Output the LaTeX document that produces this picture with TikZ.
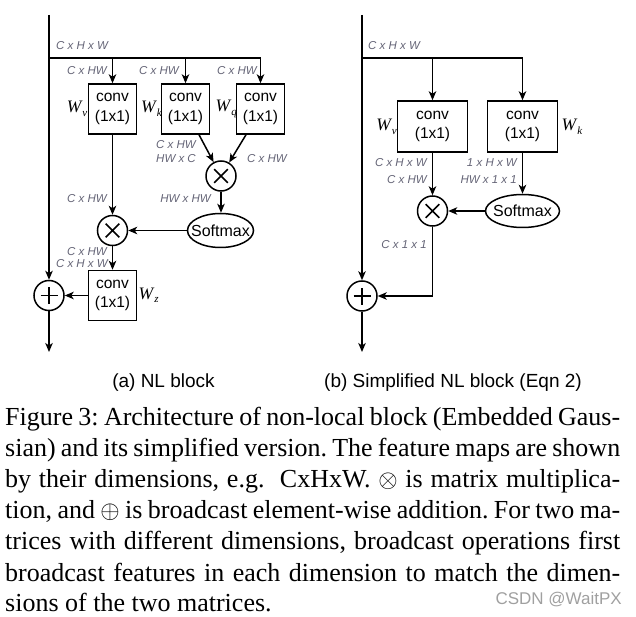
\documentclass[tikz,border=0pt]{standalone}
\usepackage{fontspec}
\setmainfont{Liberation Serif}
\setsansfont{Liberation Sans}
\usetikzlibrary{arrows.meta,shapes.geometric}
\definecolor{labc}{RGB}{100,100,118}
\definecolor{wmc}{RGB}{160,160,160}
\newcommand\Wlab[1]{\textit{W}\kern-0.3pt\raisebox{-3.5pt}{\fontsize{11}{11}\selectfont\textit{#1}}}
\newcommand\capline[1]{\makebox[615pt][s]{#1}}
\frenchspacing
\begin{document}
\begin{tikzpicture}[x=1pt,y=-1pt,
  ln/.style={line width=1.5pt},
  arr/.style={line width=1.5pt,-{Stealth[length=9pt,width=7.5pt,inset=2.5pt]}},
  convbox/.style={draw,line width=1.5pt,minimum width=48pt,minimum height=50pt,inner sep=0pt,align=center,font=\sffamily\fontsize{15.5}{19.5}\selectfont},
  wideconv/.style={convbox,minimum width=70pt,minimum height=51pt},
  opc/.style={draw,circle,line width=1.5pt,minimum size=30pt,inner sep=0pt},
  mult/.style={opc,path picture={\draw[line width=1.6pt]
     ([xshift=-6.8pt,yshift=-6.8pt]path picture bounding box.center) -- ([xshift=6.8pt,yshift=6.8pt]path picture bounding box.center)
     ([xshift=-6.8pt,yshift=6.8pt]path picture bounding box.center) -- ([xshift=6.8pt,yshift=-6.8pt]path picture bounding box.center);}},
  plusop/.style={opc,path picture={\draw[line width=1.6pt]
     ([xshift=-8.5pt]path picture bounding box.center) -- ([xshift=8.5pt]path picture bounding box.center)
     ([yshift=-8.5pt]path picture bounding box.center) -- ([yshift=8.5pt]path picture bounding box.center);}},
  smx/.style={draw,ellipse,line width=1.5pt,minimum width=66pt,minimum height=34pt,inner xsep=-8pt,inner ysep=0pt,font=\sffamily\fontsize{16}{18}\selectfont},
  dim/.style={inner sep=0pt,text=labc,font=\sffamily\itshape\fontsize{11.5}{12}\selectfont},
  wl/.style={inner sep=0pt,font=\fontsize{17.5}{18}\selectfont},
  sub/.style={inner sep=0pt,font=\sffamily\fontsize{19}{21}\selectfont},
  capt/.style={inner sep=0pt,anchor=base west,font=\fontsize{26}{31}\selectfont},
  wm/.style={inner sep=0pt,anchor=base east,text=wmc,font=\sffamily\fontsize{17}{18}\selectfont}
]
\useasboundingbox (0,0) rectangle (636,617);

% ---------------- panel (a) ----------------
\coordinate (ta) at (49,15);
\coordinate (ja) at (49,58);
\coordinate (ea) at (49,352);
\node[convbox] (a1) at (112.5,109) {conv\\(1x1)};
\node[convbox] (a2) at (185.5,109) {conv\\(1x1)};
\node[convbox] (a3) at (260.5,109) {conv\\(1x1)};
\node[mult] (m1) at (221,176) {};
\node[smx] (s1) at (220.5,230.5) {Softmax};
\node[mult] (m2) at (112.5,230.5) {};
\node[convbox] (a4) at (112.5,295.5) {conv\\(1x1)};
\node[plusop] (p1) at (49,295.5) {};

\draw[arr] (ta) -- (p1);
\draw[arr] (ja) -| (a3.north);
\draw[arr] (ja -| a1.north) -- (a1.north);
\draw[arr] (ja -| a2.north) -- (a2.north);
\draw[arr] ([xshift=13.5pt]a2.south) -- (m1);
\draw[arr] ([xshift=-14.5pt]a3.south) -- (m1);
\draw[arr] (m1) -- (m1 |- s1.north);
\draw[arr] (s1) -- (m2);
\draw[arr] (a1) -- (m2);
\draw[arr] (m2) -- (a4);
\draw[arr] (a4) -- (p1);
\draw[arr] (p1) -- (ea);

\node[dim,anchor=west] (la0) at (56,46) {C x H x W};
\node[dim,anchor=east] (la1) at (107,71) {C x HW};
\node[dim,anchor=east] (la2) at (179,71) {C x HW};
\node[dim,anchor=east] (la3) at (257,71) {C x HW};
\node[wl,anchor=east] (wa1) at (87.5,109) {\Wlab{v}};
\node[wl,anchor=east] (wa2) at (162,109) {\Wlab{k}};
\node[wl,anchor=east] (wa3) at (237,109) {\Wlab{q}};
\node[dim,anchor=west] (la4) at (156,145) {C x HW};
\node[dim,anchor=west] (la5) at (156,159) {HW x C};
\node[dim,anchor=west] (la6) at (247,159) {C x HW};
\node[dim,anchor=east] (la7) at (211,199) {HW x HW};
\node[dim,anchor=east] (la8) at (107,199) {C x HW};
\node[dim,anchor=east] (la9) at (107,252) {C x HW};
\node[dim,anchor=east] (la10) at (108,264) {C x H x W};
\node[wl,anchor=west] (wa4) at (138.5,295.5) {\Wlab{z}};

% ---------------- panel (b) ----------------
\coordinate (tb) at (362,15);
\coordinate (jb) at (362,58);
\coordinate (eb) at (362,352);
\node[wideconv] (b1) at (432.5,126.5) {conv\\(1x1)};
\node[wideconv] (b2) at (522.5,126.5) {conv\\(1x1)};
\node[mult] (m3) at (432.5,211) {};
\node[smx,minimum width=74pt,minimum height=33pt] (s2) at (522.5,211) {Softmax};
\node[plusop] (p2) at (362,296) {};
\coordinate (cb) at (432.5,296);

\draw[arr] (tb) -- (p2);
\draw[arr] (jb) -| (b2.north);
\draw[arr] (jb -| b1.north) -- (b1.north);
\draw[arr] (b1) -- (m3);
\draw[arr] (b2) -- (s2);
\draw[arr] (s2) -- (m3);
\draw[arr] (m3) -- (cb) -- (p2);
\draw[arr] (p2) -- (eb);

\node[dim,anchor=west] (lb0) at (368,46) {C x H x W};
\node[wl,anchor=east] (wb1) at (397,127) {\Wlab{v}};
\node[wl,anchor=west] (wb2) at (561.5,127) {\Wlab{k}};
\node[dim,anchor=east] (lb1) at (427,163) {C x H x W};
\node[dim,anchor=east] (lb2) at (427,180) {C x HW};
\node[dim,anchor=east] (lb3) at (517,163) {1 x H x W};
\node[dim,anchor=east] (lb4) at (517,180) {HW x 1 x 1};
\node[dim,anchor=east] (lb5) at (427,245) {C x 1 x 1};

% ---------------- captions ----------------
\node[sub] (sa) at (163.5,383) {(a) NL block};
\node[sub] (sb) at (453,383) {(b) Simplified NL block (Eqn 2)};

\node[capt] (c1) at (5,425) {\capline{Figure 3: Architecture of non-local block (Embedded Gaus-}};
\node[capt] (c2) at (5,456.2) {\capline{sian) and its simplified version. The feature maps are shown}};
\node[capt] (c3) at (5,487.4) {\capline{by their dimensions, e.g.\ \ CxHxW. $\otimes$ is matrix multiplica-}};
\node[capt] (c4) at (5,518.6) {\capline{tion, and $\oplus$ is broadcast element-wise addition. For two ma-}};
\node[capt] (c5) at (5,549.8) {\capline{trices with different dimensions, broadcast operations first}};
\node[capt] (c6) at (5,581) {\capline{broadcast features in each dimension to match the dimen-}};
\node[capt] (c7) at (5,611) {sions of the two matrices.};
\node[wm] (wmk) at (622,604) {CSDN @WaitPX};
\end{tikzpicture}
\end{document}
